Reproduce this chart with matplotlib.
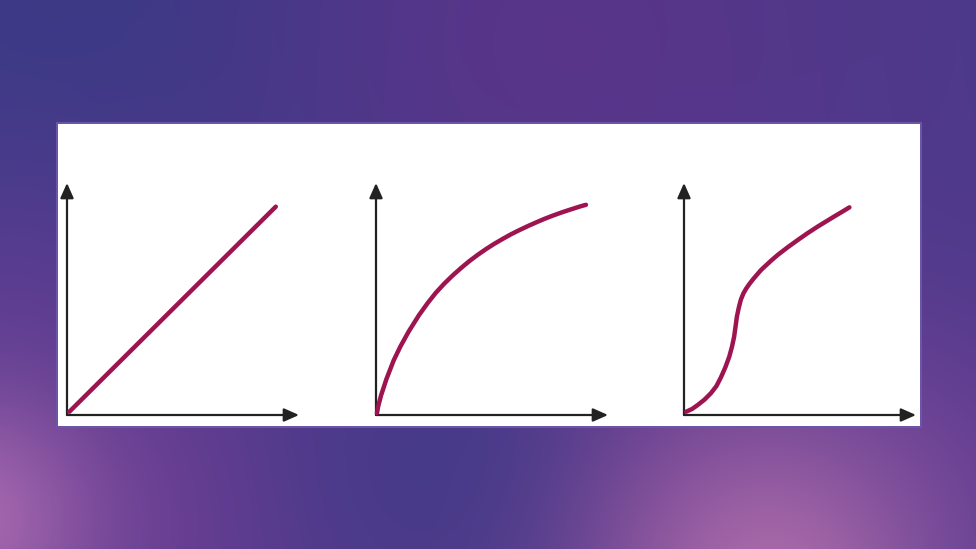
import numpy as np
import matplotlib
matplotlib.use('Agg')
import matplotlib.pyplot as plt
from matplotlib.patches import Rectangle

W, H = 976, 549

# curve values (axis length = 1)
linear_x = [0.01, 0.90]
linear_y = [0.014, 0.898]

concave_x = [0.004, 0.010, 0.022, 0.045, 0.076, 0.105, 0.141, 0.185,
             0.223, 0.258, 0.294, 0.330, 0.366, 0.402, 0.438, 0.474,
             0.510, 0.546, 0.582, 0.618, 0.654, 0.690, 0.725, 0.761,
             0.797, 0.830, 0.855, 0.880, 0.905]
concave_y = [0.008, 0.040, 0.085, 0.155, 0.235, 0.295, 0.360, 0.430,
             0.483, 0.527, 0.566, 0.601, 0.633, 0.663, 0.690, 0.715,
             0.738, 0.759, 0.779, 0.797, 0.814, 0.830, 0.845, 0.859,
             0.872, 0.883, 0.891, 0.899, 0.906]

sshape_x = [0.009, 0.035, 0.059, 0.088, 0.116, 0.140, 0.159, 0.178,
            0.195, 0.207, 0.216, 0.222, 0.228, 0.236, 0.245, 0.256,
            0.268, 0.282, 0.300, 0.332, 0.375, 0.404, 0.447, 0.490,
            0.533, 0.576, 0.612, 0.648, 0.680, 0.713]
sshape_y = [0.014, 0.026, 0.043, 0.066, 0.094, 0.125, 0.162, 0.205,
            0.251, 0.295, 0.337, 0.380, 0.424, 0.462, 0.497, 0.524,
            0.545, 0.565, 0.588, 0.625, 0.665, 0.690, 0.723, 0.754,
            0.784, 0.812, 0.834, 0.856, 0.875, 0.895]

# pixel origin of each small graph (left, bottom)
origins = [(67, 415), (376, 415), (684, 415)]
axis_len = 232

CURVE = '#9e1450'
AXIS = '#222222'


def hex2rgb(h):
    h = h.lstrip('#')
    return np.array([int(h[i:i + 2], 16) / 255 for i in (0, 2, 4)])


def background():
    """Soft purple backdrop built from a few gaussian blobs"""
    yy, xx = np.mgrid[0:H, 0:W]
    img = np.ones((H, W, 3)) * hex2rgb('#4b3a8a')
    blobs = [((140, 60), 260, '#363a84', 0.9),
             ((560, 40), 230, '#5a358a', 0.9),
             ((0, 330), 130, '#5e3d93', 0.7),
             ((160, 520), 170, '#6a3d92', 0.9),
             ((640, 500), 150, '#6b3b90', 0.9),
             ((930, 470), 130, '#6a3e95', 0.7),
             ((450, 470), 130, '#443a88', 0.9),
             ((-30, 520), 90, '#a466ad', 1.0),
             ((770, 585), 120, '#a869a8', 1.0)]
    for (cx, cy), r, col, a in blobs:
        w = a * np.exp(-((xx - cx) ** 2 + (yy - cy) ** 2) / (2 * r ** 2))
        img = img * (1 - w[..., None]) + hex2rgb(col) * w[..., None]
    return img


def small_graph(fig, origin, xs, ys):
    x0, y0 = origin
    ax = fig.add_axes([x0 / W, (H - y0) / H, axis_len / W, axis_len / H])
    ax.set_xlim(0, 1)
    ax.set_ylim(0, 1)
    ax.axis('off')
    arrow = dict(arrowstyle='-|>,head_length=0.9,head_width=0.4',
                 color=AXIS, lw=1.6, shrinkA=0, shrinkB=0)
    ax.annotate('', xy=(1, 0), xytext=(0, 0), arrowprops=arrow,
                annotation_clip=False)
    ax.annotate('', xy=(0, 1), xytext=(0, 0), arrowprops=arrow,
                annotation_clip=False)
    ax.plot(xs, ys, color=CURVE, lw=3.2, solid_capstyle='round',
            solid_joinstyle='round', clip_on=False, zorder=3)
    return ax


def main():
    fig = plt.figure(figsize=(W / 100, H / 100), dpi=100)
    bg = fig.add_axes([0, 0, 1, 1])
    bg.imshow(background(), extent=(0, W, H, 0), aspect='auto')
    bg.set_xlim(0, W)
    bg.set_ylim(H, 0)
    bg.axis('off')
    bg.add_patch(Rectangle((56, 122), 866, 306, facecolor='#6a55a8',
                           edgecolor='none'))
    bg.add_patch(Rectangle((58, 124), 862, 302, facecolor='white',
                           edgecolor='none'))

    small_graph(fig, origins[0], linear_x, linear_y)
    small_graph(fig, origins[1], concave_x, concave_y)
    small_graph(fig, origins[2], sshape_x, sshape_y)

    fig.savefig('out.png', dpi=100)


if __name__ == '__main__':
    main()
